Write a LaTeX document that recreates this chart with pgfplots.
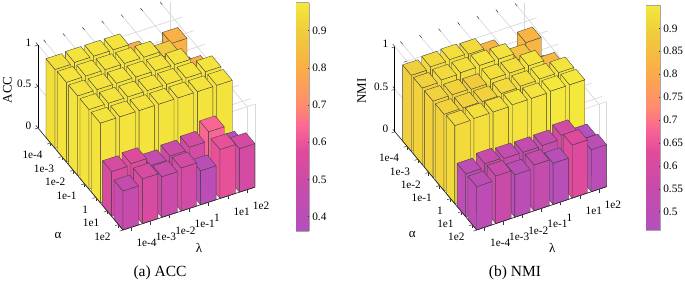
\documentclass[border=0pt]{standalone}
\usepackage{fontspec}
\setmainfont{Liberation Serif}
\usepackage{pgfplots}
\pgfplotsset{compat=1.18}
\pgfplotsset{
  colormap={mp}{rgb255(0cm)=(178,80,190) rgb255(2cm)=(200,75,170) rgb255(3.5cm)=(225,75,155) rgb255(4.5cm)=(250,100,150) rgb255(5.5cm)=(255,140,110) rgb255(7.2cm)=(250,175,70) rgb255(8.8cm)=(240,205,60) rgb255(10cm)=(245,232,60)},
  colormap name=mp,
  barstyle/.style={patch,patch type=rectangle,shader=faceted,faceted color=black!75,line width=0.35pt,point meta=explicit,z buffer=none,forget plot},
  panel/.style={
    clip=false,anchor=origin,
    xmin=0.6,xmax=7.4,ymin=-0.1,ymax=7.4,zmin=0,zmax=1,
    xtick={1,...,7},ytick={1,...,7},ztick={0,0.5,1},
    xticklabels={1e-4,1e-3,1e-2,1e-1,1,1e1,1e2},
    yticklabels={1e-4,1e-3,1e-2,1e-1,1,1e1,1e2},
    /pgf/number format/assume math mode=true,
    tick label style={font=\fontsize{11.3}{12}\selectfont},
    label style={font=\fontsize{13}{14}\selectfont},
    x tick label style={anchor=west,xshift=0pt,yshift=-13pt},
    y tick label style={anchor=east,xshift=-1pt,yshift=-11pt},
    z tick label style={anchor=east,xshift=-1pt},
    xmajorgrids,ymajorgrids,zmajorgrids,
    grid style={gray!30,line width=0.7pt},
    axis line style={draw=none},
    tick style={black!80,line width=0.5pt},
    tick align=outside,major tick length=3.5pt,
    xtick pos=left,ytick pos=left,ztick pos=left,
  },
  cbar/.style={
    anchor=south west,scale only axis,xmin=0,xmax=1,xtick=\empty,
    yticklabel pos=right,axis y line*=right,
    axis on top,
    tick align=inside,major tick length=1.8pt,
    tick style={black!80,line width=0.4pt},
    /pgf/number format/assume math mode=true,
    tick label style={font=\fontsize{11.3}{12}\selectfont,xshift=-0.5pt},
    axis line style={draw=gray!70,line width=0.7pt},
  }
}
\newcommand{\BB}[3]{%
  \pgfmathsetmacro\xa{#1-0.4}\pgfmathsetmacro\xb{#1+0.4}%
  \pgfmathsetmacro\ya{#2-0.4}\pgfmathsetmacro\yb{#2+0.4}%
  \addplot3[barstyle] coordinates {
    (\xa,\ya,0)[#3] (\xa,\yb,0)[#3] (\xa,\yb,#3)[#3] (\xa,\ya,#3)[#3]
    (\xa,\yb,0)[#3] (\xb,\yb,0)[#3] (\xb,\yb,#3)[#3] (\xa,\yb,#3)[#3]
    (\xa,\ya,#3)[#3] (\xb,\ya,#3)[#3] (\xb,\yb,#3)[#3] (\xa,\yb,#3)[#3]
  };%
}
\newcommand{\BRow}[8]{\BB{7}{#1}{#8}\BB{6}{#1}{#7}\BB{5}{#1}{#6}\BB{4}{#1}{#5}\BB{3}{#1}{#4}\BB{2}{#1}{#3}\BB{1}{#1}{#2}}
\newcommand{\Frame}{%
  \addplot3[gray!30,line width=0.7pt,forget plot] coordinates {(7.4,7.4,0) (7.4,7.4,1)};
  \addplot3[gray!30,line width=0.7pt,forget plot] coordinates {(7.4,-0.1,0) (7.4,-0.1,1)};
}
\newcommand{\Axlines}{%
  \addplot3[black!85,line width=0.6pt,forget plot] coordinates {(0.6,-0.1,0) (0.6,7.4,0) (7.4,7.4,0)};
  \addplot3[black,line width=1pt,forget plot] coordinates {(0.6,-0.1,0) (0.6,-0.1,1)};
}
\begin{document}
\begin{tikzpicture}
\path[use as bounding box] (0,0) rectangle (685pt,281pt);
% ---------- panel a
\begin{axis}[panel,at={(39.16pt,151.64pt)},
  x={(19.4pt,6.3pt)},y={(11.33pt,-13.6pt)},z={(0pt,83pt)},
  point meta min=0.3615,point meta max=0.975,
  xlabel={λ},ylabel={α},zlabel={ACC},
  xlabel style={at={(axis cs:0.6,7.4,0)},anchor=center,xshift=76pt,yshift=-18pt,rotate=0},
  ylabel style={at={(axis cs:0.6,7.4,0)},anchor=center,xshift=-65pt,yshift=-5pt,rotate=0},
  zlabel style={at={(axis cs:0.6,-0.1,0.46)},anchor=center,yshift=30.7pt,rotate=0},
]
\Frame
\BRow{1}{.95}{.96}{.96}{.96}{.80}{.62}{.81}
\BRow{2}{.96}{.96}{.96}{.96}{.96}{.89}{.62}
\BRow{3}{.96}{.96}{.96}{.96}{.96}{.96}{.80}
\BRow{4}{.96}{.96}{.96}{.96}{.96}{.96}{.96}
\BRow{5}{.96}{.96}{.96}{.96}{.96}{.96}{.96}
\BRow{6}{.54}{.56}{.46}{.50}{.53}{.64}{.38}
\BRow{7}{.47}{.54}{.49}{.52}{.41}{.59}{.525}
\Axlines
\end{axis}
% ---------- panel a colourbar
\begin{axis}[cbar,at={(295.7pt,50pt)},width=13.6pt,height=228.3pt,
  ymin=0.3615,ymax=0.975,ytick={0.4,0.5,0.6,0.7,0.8,0.9},
  point meta min=0.3615,point meta max=0.975]
\addplot[patch,patch type=rectangle,shader=interp,point meta=y] coordinates {(0,0.3615) (1,0.3615) (1,0.975) (0,0.975)};
\end{axis}
\node at (160pt,8.3pt) {\fontsize{15.5}{16}\selectfont (a) ACC};
% ---------- panel b
\begin{axis}[panel,at={(396.04pt,147.94pt)},
  x={(19.1pt,6.37pt)},y={(10.9pt,-13.1pt)},z={(0pt,85pt)},
  point meta min=0.4585,point meta max=0.951,
  xlabel={λ},ylabel={α},zlabel={NMI},
  xlabel style={at={(axis cs:0.6,7.4,0)},anchor=center,xshift=75.6pt,yshift=-18pt,rotate=0},
  ylabel style={at={(axis cs:0.6,7.4,0)},anchor=center,xshift=-64.4pt,yshift=-4pt,rotate=0},
  zlabel style={at={(axis cs:0.6,-0.1,0.48)},anchor=center,yshift=33.3pt,rotate=0},
]
\Frame
\BRow{1}{.895}{.92}{.93}{.92}{.83}{.65}{.83}
\BRow{2}{.90}{.92}{.93}{.94}{.94}{.86}{.65}
\BRow{3}{.90}{.90}{.89}{.93}{.93}{.94}{.84}
\BRow{4}{.90}{.90}{.90}{.92}{.93}{.94}{.94}
\BRow{5}{.92}{.93}{.93}{.94}{.94}{.95}{.95}
\BRow{6}{.507}{.55}{.537}{.535}{.54}{.585}{.46}
\BRow{7}{.51}{.56}{.50}{.54}{.485}{.625}{.495}
\Axlines
\end{axis}
% ---------- panel b colourbar
\begin{axis}[cbar,at={(646pt,50.3pt)},width=14.3pt,height=225.7pt,
  ymin=0.4585,ymax=0.951,ytick={0.5,0.55,0.6,0.65,0.7,0.75,0.8,0.85,0.9},
  yticklabel style={/pgf/number format/fixed,/pgf/number format/precision=2},
  point meta min=0.4585,point meta max=0.951]
\addplot[patch,patch type=rectangle,shader=interp,point meta=y] coordinates {(0,0.4585) (1,0.4585) (1,0.951) (0,0.951)};
\end{axis}
\node at (515pt,8.3pt) {\fontsize{15.5}{16}\selectfont (b) NMI};
\end{tikzpicture}
\end{document}
